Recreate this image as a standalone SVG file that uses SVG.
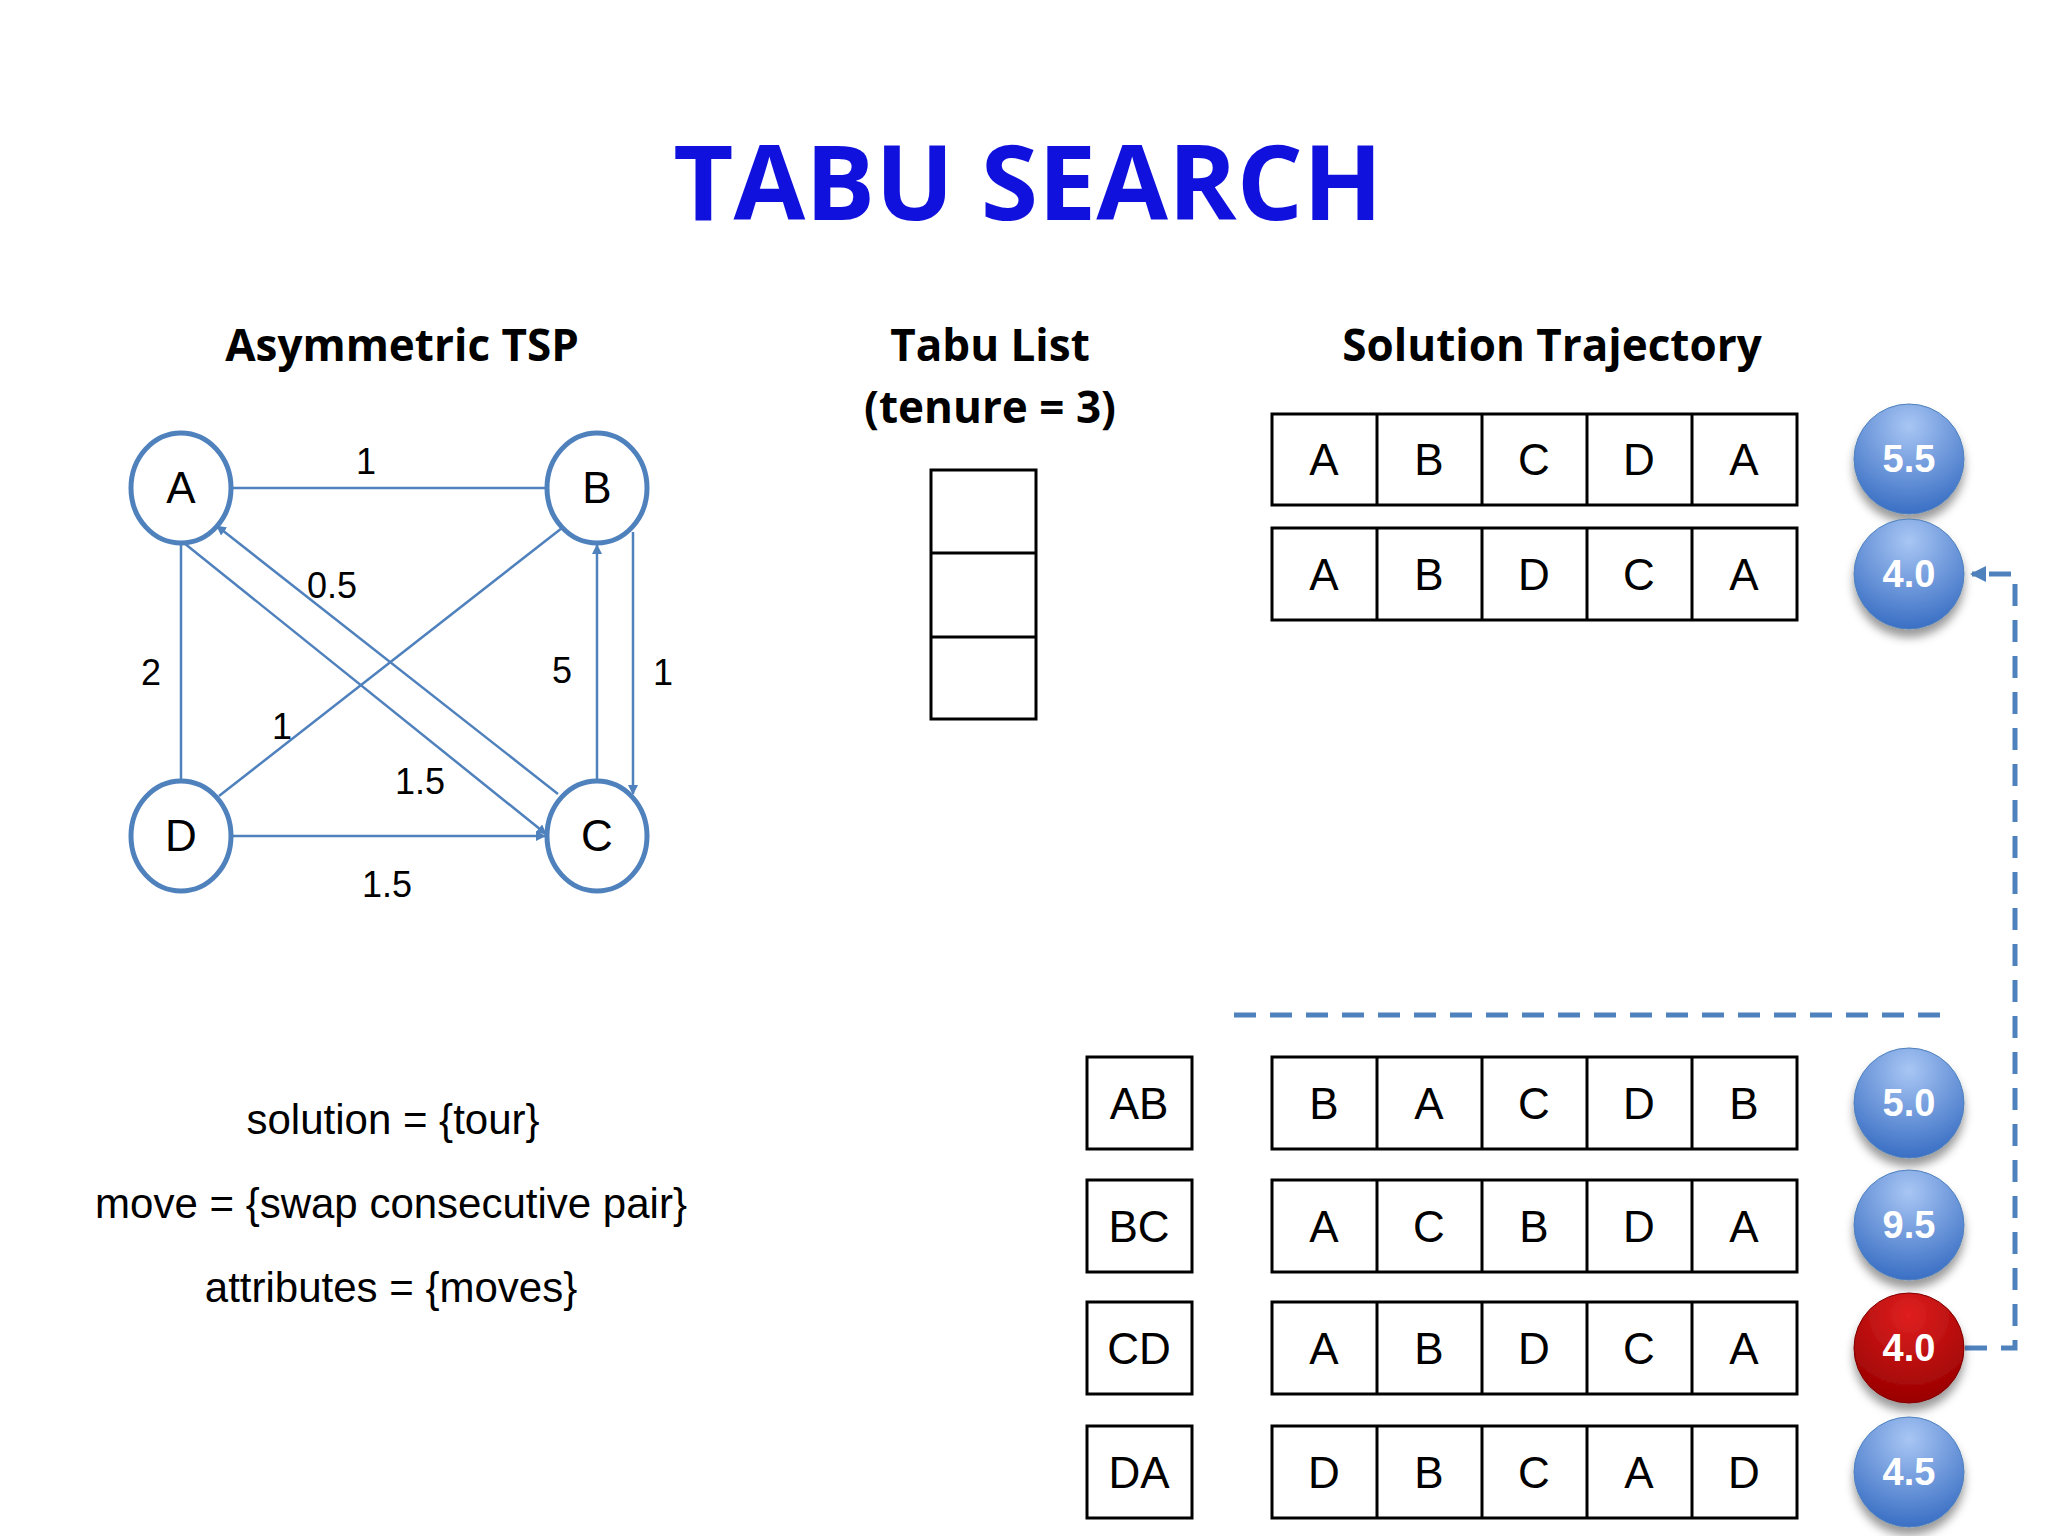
<svg xmlns="http://www.w3.org/2000/svg" width="2048" height="1536" viewBox="0 0 2048 1536">
<style>
.t{font-family:"Liberation Sans",Arial,sans-serif;fill:#000}
.h{font-family:"Open Sans","Liberation Sans",sans-serif;font-weight:bold;font-size:44px;text-anchor:middle}
.n{fill:#fff;stroke:#4f81bd;stroke-width:5}
.e{stroke:#4f81bd;stroke-width:2.5;fill:none}
.lbl{font-family:"Liberation Sans",sans-serif;font-size:36px;text-anchor:middle}
.nl{font-family:"Liberation Sans",sans-serif;font-size:44px;text-anchor:middle}
.cell{fill:#fff;stroke:#000;stroke-width:3}
.ct{font-family:"Liberation Sans",sans-serif;font-size:44px;text-anchor:middle}
.ball{font-family:"Liberation Sans",sans-serif;font-weight:bold;font-size:38px;text-anchor:middle;fill:#fff}
.dash{stroke:#4f81bd;stroke-width:5;fill:none;stroke-dasharray:22 14}
</style>
<defs>
<marker id="ar" markerWidth="10" markerHeight="10" refX="9" refY="5" orient="auto" markerUnits="userSpaceOnUse" viewBox="0 0 10 10"><path d="M0,0L10,5L0,10z" fill="#4f81bd"/></marker>
<marker id="ar2" markerWidth="16" markerHeight="16" refX="14" refY="8" orient="auto" markerUnits="userSpaceOnUse" viewBox="0 0 16 16"><path d="M0,0L16,8L0,16z" fill="#4f81bd"/></marker>
<radialGradient id="gb" cx="50%" cy="20%" r="80%"><stop offset="0" stop-color="#a8c6f4"/><stop offset="1" stop-color="#3a6fc4"/></radialGradient>
<radialGradient id="gr" cx="50%" cy="20%" r="80%"><stop offset="0" stop-color="#e02020"/><stop offset="1" stop-color="#990000"/></radialGradient>
<filter id="sh" x="-30%" y="-30%" width="160%" height="170%"><feDropShadow dx="0" dy="8" stdDeviation="5" flood-opacity="0.4"/></filter>
</defs>
<rect width="2048" height="1536" fill="#fff"/>
<text x="1028" y="220" font-family="Open Sans,Liberation Sans,sans-serif" font-weight="bold" font-size="104" fill="#1111dd" text-anchor="middle">TABU SEARCH</text>
<text class="h" x="402" y="361">Asymmetric TSP</text>
<text class="h" x="990" y="361">Tabu List</text>
<text class="h" x="990" y="423">(tenure = 3)</text>
<text class="h" x="1552" y="361">Solution Trajectory</text>

<g id="connectors">
<line class="e" x1="231" y1="488" x2="547" y2="488"/>
<line class="e" x1="181" y1="543" x2="181" y2="781"/>
<line class="e" x1="231" y1="836" x2="545" y2="836" marker-end="url(#ar)"/>
<line class="e" x1="219" y1="796" x2="562" y2="528"/>
<line class="e" x1="184" y1="543" x2="546" y2="834" marker-end="url(#ar)"/>
<line class="e" x1="558" y1="794" x2="217" y2="526" marker-end="url(#ar)"/>
<line class="e" x1="597" y1="781" x2="597" y2="545" marker-end="url(#ar)"/>
<line class="e" x1="633" y1="532" x2="633" y2="794" marker-end="url(#ar)"/>
<polyline class="dash" points="1965,1348 2015,1348 2015,574 1972,574" marker-end="url(#ar2)"/>
<line class="dash" x1="1234" y1="1015" x2="1951" y2="1015"/>
</g>
<g class="lbl">
<text class="lbl" x="366" y="474">1</text>
<text class="lbl" x="332" y="598">0.5</text>
<text class="lbl" x="151" y="685">2</text>
<text class="lbl" x="282" y="739">1</text>
<text class="lbl" x="562" y="683">5</text>
<text class="lbl" x="663" y="685">1</text>
<text class="lbl" x="420" y="794">1.5</text>
<text class="lbl" x="387" y="897">1.5</text>
</g>
<g id="nA"><ellipse class="n" cx="181" cy="488" rx="50" ry="55"/><text class="nl" x="181" y="503">A</text></g>
<g id="nB"><ellipse class="n" cx="597" cy="488" rx="50" ry="55"/><text class="nl" x="597" y="503">B</text></g>
<g id="nD"><ellipse class="n" cx="181" cy="836" rx="50" ry="55"/><text class="nl" x="181" y="851">D</text></g>
<g id="nC"><ellipse class="n" cx="597" cy="836" rx="50" ry="55"/><text class="nl" x="597" y="851">C</text></g>

<g font-family="Liberation Sans,sans-serif" font-size="42" text-anchor="middle">
<text x="393" y="1134">solution = {tour}</text>
<text x="391" y="1218">move = {swap consecutive pair}</text>
<text x="391" y="1302">attributes = {moves}</text>
</g>

<g id="tabulist">
<rect x="931" y="470" width="105" height="249" fill="#fff" stroke="#000" stroke-width="3"/>
<line x1="931" y1="553" x2="1036" y2="553" stroke="#000" stroke-width="3"/>
<line x1="931" y1="637" x2="1036" y2="637" stroke="#000" stroke-width="3"/>
</g>

<g id="row1"><rect class="cell" x="1272" y="414" width="525" height="91"/>
<path d="M1377,414v91M1482,414v91M1587,414v91M1692,414v91" stroke="#000" stroke-width="3"/>
<g class="ct"><text class="ct" x="1324" y="475">A</text><text class="ct" x="1429" y="475">B</text><text class="ct" x="1534" y="475">C</text><text class="ct" x="1639" y="475">D</text><text class="ct" x="1744" y="475">A</text></g>
<circle cx="1909" cy="459" r="55" fill="url(#gb)" stroke="#4f81bd" filter="url(#sh)"/><text class="ball" x="1909" y="472">5.5</text></g>

<g id="row2"><rect class="cell" x="1272" y="528" width="525" height="92"/>
<path d="M1377,528v92M1482,528v92M1587,528v92M1692,528v92" stroke="#000" stroke-width="3"/>
<text class="ct" x="1324" y="590">A</text><text class="ct" x="1429" y="590">B</text><text class="ct" x="1534" y="590">D</text><text class="ct" x="1639" y="590">C</text><text class="ct" x="1744" y="590">A</text>
<circle cx="1909" cy="574" r="55" fill="url(#gb)" stroke="#4f81bd" filter="url(#sh)"/><text class="ball" x="1909" y="587">4.0</text></g>

<g id="cand1"><rect class="cell" x="1087" y="1057" width="105" height="92"/><text class="ct" x="1139" y="1119">AB</text>
<rect class="cell" x="1272" y="1057" width="525" height="92"/>
<path d="M1377,1057v92M1482,1057v92M1587,1057v92M1692,1057v92" stroke="#000" stroke-width="3"/>
<text class="ct" x="1324" y="1119">B</text><text class="ct" x="1429" y="1119">A</text><text class="ct" x="1534" y="1119">C</text><text class="ct" x="1639" y="1119">D</text><text class="ct" x="1744" y="1119">B</text>
<circle cx="1909" cy="1103" r="55" fill="url(#gb)" stroke="#4f81bd" filter="url(#sh)"/><text class="ball" x="1909" y="1116">5.0</text></g>

<g id="cand2"><rect class="cell" x="1087" y="1180" width="105" height="92"/><text class="ct" x="1139" y="1242">BC</text>
<rect class="cell" x="1272" y="1180" width="525" height="92"/>
<path d="M1377,1180v92M1482,1180v92M1587,1180v92M1692,1180v92" stroke="#000" stroke-width="3"/>
<text class="ct" x="1324" y="1242">A</text><text class="ct" x="1429" y="1242">C</text><text class="ct" x="1534" y="1242">B</text><text class="ct" x="1639" y="1242">D</text><text class="ct" x="1744" y="1242">A</text>
<circle cx="1909" cy="1225" r="55" fill="url(#gb)" stroke="#4f81bd" filter="url(#sh)"/><text class="ball" x="1909" y="1238">9.5</text></g>

<g id="cand3"><rect class="cell" x="1087" y="1302" width="105" height="92"/><text class="ct" x="1139" y="1364">CD</text>
<rect class="cell" x="1272" y="1302" width="525" height="92"/>
<path d="M1377,1302v92M1482,1302v92M1587,1302v92M1692,1302v92" stroke="#000" stroke-width="3"/>
<text class="ct" x="1324" y="1364">A</text><text class="ct" x="1429" y="1364">B</text><text class="ct" x="1534" y="1364">D</text><text class="ct" x="1639" y="1364">C</text><text class="ct" x="1744" y="1364">A</text>
<circle cx="1909" cy="1348" r="55" fill="url(#gr)" stroke="#800000" filter="url(#sh)"/><text class="ball" x="1909" y="1361">4.0</text></g>

<g id="cand4"><rect class="cell" x="1087" y="1426" width="105" height="92"/><text class="ct" x="1139" y="1488">DA</text>
<rect class="cell" x="1272" y="1426" width="525" height="92"/>
<path d="M1377,1426v92M1482,1426v92M1587,1426v92M1692,1426v92" stroke="#000" stroke-width="3"/>
<text class="ct" x="1324" y="1488">D</text><text class="ct" x="1429" y="1488">B</text><text class="ct" x="1534" y="1488">C</text><text class="ct" x="1639" y="1488">A</text><text class="ct" x="1744" y="1488">D</text>
<circle cx="1909" cy="1472" r="55" fill="url(#gb)" stroke="#4f81bd" filter="url(#sh)"/><text class="ball" x="1909" y="1485">4.5</text></g>
</svg>
